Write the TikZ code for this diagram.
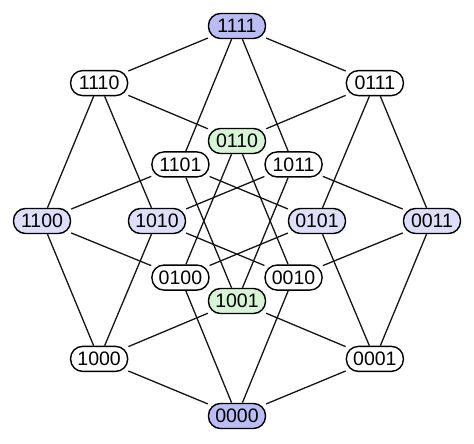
\documentclass[tikz,border=0pt]{standalone}
\usepackage{fontspec}
\setmainfont{Liberation Sans}
\usepackage{tikz}
\usetikzlibrary{arrows.meta}
\definecolor{EndFill}{RGB}{188,188,244}
\definecolor{MidFill}{RGB}{222,222,248}
\definecolor{GrnFill}{RGB}{216,244,214}
\definecolor{EdgeLine}{RGB}{20,20,20}
\tikzset{
  nd_bit/.style={rectangle,rounded corners=12pt,draw=black,line width=1.4pt,fill=white,minimum width=57pt,minimum height=25pt,inner sep=0pt,font=\fontsize{19.5}{22}\selectfont},
  nd_end/.style={nd_bit,fill=EndFill},
  nd_mid/.style={nd_bit,fill=MidFill},
  nd_grn/.style={nd_bit,fill=GrnFill},
  edg/.style={draw=EdgeLine,line width=1.3pt},
}

\begin{document}
\begin{tikzpicture}[x=1pt,y=1pt]
\useasboundingbox (0,0) rectangle (474,444);
\def\rO{195}\def\rI{80}
\begin{scope}[shift={(237,223)}]
% outer ring
\node[nd_end] at (90:\rO)(v1111){1111};
\node[nd_bit] at (45:\rO)(v0111){0111};
\node[nd_mid] at (0:\rO)(v0011){0011};
\node[nd_bit] at (-45:\rO)(v0001){0001};
\node[nd_end] at (-90:\rO)(v0000){0000};
\node[nd_bit] at (-135:\rO)(v1000){1000};
\node[nd_mid] at (180:\rO)(v1100){1100};
\node[nd_bit] at (135:\rO)(v1110){1110};
% inner ring
\node[nd_grn] at (90:\rI)(v0110){0110};
\node[nd_bit] at (45:\rI)(v1011){1011};
\node[nd_mid] at (0:\rI)(v0101){0101};
\node[nd_bit] at (-45:\rI)(v0010){0010};
\node[nd_grn] at (-90:\rI)(v1001){1001};
\node[nd_bit] at (-135:\rI)(v0100){0100};
\node[nd_mid] at (180:\rI)(v1010){1010};
\node[nd_bit] at (135:\rI)(v1101){1101};
\end{scope}
% edges: one bit flipped
\foreach \a/\b in {0000/0001,0000/0010,0000/0100,0000/1000,
  0001/0011,0001/0101,0001/1001,0010/0011,0010/0110,0010/1010,
  0011/0111,0011/1011,0100/0101,0100/0110,0100/1100,
  0101/0111,0101/1101,0110/0111,0110/1110,0111/1111,
  1000/1001,1000/1010,1000/1100,1001/1011,1001/1101,
  1010/1011,1010/1110,1011/1111,1100/1101,1100/1110,
  1101/1111,1110/1111}{\draw[edg](v\a)--(v\b);}
\end{tikzpicture}
\end{document}
